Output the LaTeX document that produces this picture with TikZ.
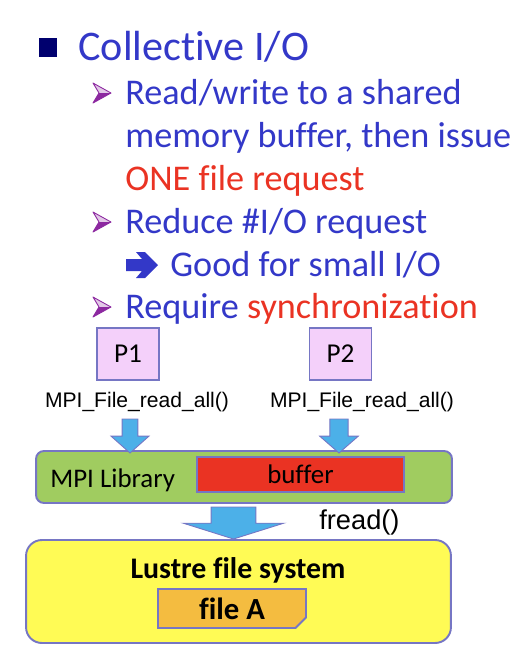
\documentclass[tikz,border=0pt]{standalone}
\usepackage{fontspec}
\setmainfont{Carlito}[Ligatures=CommonOff]
\newfontfamily\arialfont{Liberation Sans}
\usepackage{tikz}
\usetikzlibrary{calc, shapes.misc, positioning}
\definecolor{textblue}{RGB}{51,56,200}
\definecolor{textred}{RGB}{234,51,35}
\definecolor{navy}{RGB}{0,0,110}
\definecolor{edgeblue}{RGB}{118,118,196}
\definecolor{procpink}{RGB}{244,208,250}
\definecolor{libgreen}{RGB}{160,204,96}
\definecolor{arrowblue}{RGB}{76,176,232}
\definecolor{fsyellow}{RGB}{255,251,85}
\definecolor{fileorange}{RGB}{244,188,64}
\definecolor{bulletpurple}{RGB}{140,40,160}

% #1 top point, #2 tip point, #3 shaft half width, #4 head half width, #5 head length
\newcommand{\blockdown}[5]{%
  \draw[blockarrow] let \p1=(#1), \p2=(#2) in
    (\x1-#3,\y1) -- (\x1+#3,\y1) -- (\x1+#3,\y2+#5) -- (\x1+#4,\y2+#5)
    -- (\x1,\y2) -- (\x1-#4,\y2+#5) -- (\x1-#3,\y2+#5) -- cycle;}

\tikzset{
  bullettext/.style={anchor=base west, inner sep=0pt, text=textblue, font=\fontsize{20.6}{24}\selectfont},
  pbox/.style={draw=edgeblue, line width=1.1pt, fill=procpink, minimum width=1.24cm, minimum height=1.04cm, inner sep=0pt, font=\fontsize{15.5}{18}\selectfont},
  calllabel/.style={inner sep=0pt, font=\arialfont\fontsize{12}{14}\selectfont},
  blockarrow/.style={fill=arrowblue, draw=edgeblue, line width=0.5pt},
  arrowbullet/.pic={
    \fill[bulletpurple!25] (-9,-10) -- (9,0) -- (-3,0) -- cycle;
    \fill[bulletpurple] (-9,10) -- (9,0) -- (-3,0) -- cycle;
    \draw[bulletpurple, line width=0.5pt, line join=round] (-9,-10) -- (9,0) -- (-9,10) -- (-3,0) -- cycle;
  }
}

\begin{document}
\begin{tikzpicture}[x=0.02cm, y=-0.02cm]
\useasboundingbox (0,0) rectangle (514,650);

% bullet text
\fill[navy] (39,38) rectangle (57,57);
\node[bullettext, font=\fontsize{24}{29}\selectfont] (title) at (78,60) {Collective I/O};
\pic at (102,93) {arrowbullet};
\node[bullettext] (l1) at (125,104) {Read/write to a shared};
\node[bullettext] (l2) at (125,147) {memory buffer, then issue};
\node[bullettext, text=textred] (l3) at (125,190) {ONE file request};
\pic at (102,222) {arrowbullet};
\node[bullettext] (l4) at (125,233) {Reduce \#I/O request};
\fill[textblue] (126,259) -- (142,259) -- (136,252) -- (145,252) -- (158,265) -- (145,278)
  -- (136,278) -- (142,271) -- (126,271) -- cycle;
\node[bullettext] (l5) at (170,276) {Good for small I/O};
\pic at (102,307) {arrowbullet};
\node[bullettext] (l6) at (125,318) {Require \textcolor{textred}{synchronization}};

% processes
\node[pbox] (p1) at (128,354) {P1};
\node[pbox] (p2) at (340.5,354) {P2};
\node[calllabel] (c1) at (137,402) {MPI\_File\_read\_all()};
\node[calllabel] (c2) at (362,402) {MPI\_File\_read\_all()};

% MPI library
\node[draw=edgeblue, line width=1.1pt, fill=libgreen, rounded corners=4.5pt, minimum width=8.32cm, minimum height=1.04cm] (mpi) at (244,477) {};
\node[draw=edgeblue, line width=1.1pt, fill=textred, minimum width=4.14cm, minimum height=0.7cm, inner sep=0pt, font=\fontsize{15.3}{18}\selectfont] (buf) at (300.5,474.5) {buffer};
\node[anchor=base west, inner sep=0pt, font=\fontsize{15.3}{18}\selectfont] (mpilbl) at (50,487) {MPI Library};

% Lustre
\node[draw=edgeblue, line width=1.1pt, fill=fsyellow, rounded corners=9pt, minimum width=8.5cm, minimum height=2.06cm] (lustre) at (238.5,591.5) {};
\node[anchor=base, inner sep=0pt, font=\bfseries\fontsize{17}{20}\selectfont] (lustrelbl) at (238,578) {Lustre file system};
\node[chamfered rectangle, chamfered rectangle corners=south east, chamfered rectangle xsep=3pt, chamfered rectangle ysep=3pt,
  draw=edgeblue, line width=1.1pt, fill=fileorange, minimum width=2.96cm, minimum height=0.78cm, inner sep=0pt,
  font=\bfseries\fontsize{17.5}{21}\selectfont] (filea) at (232,608.5) {file A};

% arrows
\coordinate (a1top) at (130,419);
\coordinate (a1tip) at (130,453);
\coordinate (a2top) at (339,419);
\coordinate (a2tip) at (339,453);
\coordinate (a3top) at (233.5,507);
\coordinate (a3tip) at (233.5,539);
\blockdown{a1top}{a1tip}{4.5pt}{10.8pt}{9.6pt}
\blockdown{a2top}{a2tip}{5.2pt}{11pt}{9.6pt}
\blockdown{a3top}{a3tip}{12.75pt}{28.6pt}{9pt}
\node[anchor=base west, inner sep=0pt, font=\arialfont\fontsize{15.5}{18}\selectfont] (fread) at (319,529) {fread()};
\end{tikzpicture}
\end{document}
